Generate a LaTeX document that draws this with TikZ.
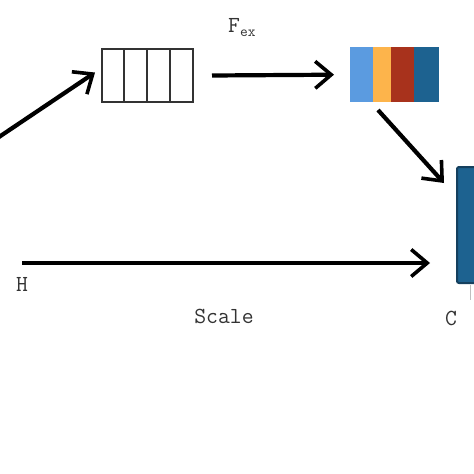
\documentclass[tikz,border=0pt]{standalone}
\usetikzlibrary{arrows.meta}
\definecolor{cLB}{HTML}{5B9BE0}
\definecolor{cOR}{HTML}{FDB44B}
\definecolor{cRD}{HTML}{A8321C}
\definecolor{cTL}{HTML}{1D6290}
\definecolor{cTLd}{HTML}{15405E}
\tikzset{
  flow/.style={line width=4.2pt, -{Straight Barb[length=16pt,width=27pt,line width=3.6pt]}},
  lbl/.style={font=\fontsize{23}{27}\selectfont\ttfamily, text=black!80, inner sep=0pt},
}
\begin{document}
\begin{tikzpicture}[x=1pt,y=-1pt]
\useasboundingbox (0,0) rectangle (474,474);
% empty buffer box
\node (buf) [draw=black!80, line width=2pt, minimum width=91pt, minimum height=53pt, inner sep=0pt,
  anchor=north west] at (101,48) {};
\foreach \xx in {124,147,170} \draw[black!80, line width=2pt] (\xx,48) -- (\xx,101);
% coloured box
\node (col) [minimum width=89pt, minimum height=55pt, inner sep=0pt, anchor=north west] at (350,47) {};
\fill[cLB] (350,47) rectangle (373,102);
\fill[cOR] (373,47) rectangle (391,102);
\fill[cRD] (391,47) rectangle (414,102);
\fill[cTL] (414,47) rectangle (439,102);
% teal box C
\node (cbox) [anchor=north west, minimum width=30pt, minimum height=118pt, inner sep=0pt] at (456,166) {};
\draw[draw=cTLd, fill=cTL, line width=2pt, rounded corners=2pt] (457,167) rectangle (486,283);
\draw[black!25, line width=0.8pt] (470.5,285) -- (470.5,300);
% coordinates
\coordinate (in) at (-4,139);
\coordinate (hs) at (22,263);
\coordinate (ds) at (378,110);
\coordinate (de) at (444,183);
\coordinate (he) at (430,263);
% connectors
\draw[flow] (in) -- ([xshift=-6pt,yshift=3pt]buf.west);
\draw[flow] ([xshift=18pt]buf.east) -- ([xshift=-16pt]col.west);
\draw[flow] (ds) -- (de);
\draw[flow] (hs) -- (he);
% labels
\node (fex) [lbl, anchor=base west] at (228,32) {F\raisebox{-0.45ex}{\fontsize{15}{17}\selectfont ex}};
\node (hl) [lbl] at (22,284) {H};
\node (sl) [lbl] at (224,316) {Scale};
\node (cl) [lbl] at (451,318) {C};
\end{tikzpicture}
\end{document}
